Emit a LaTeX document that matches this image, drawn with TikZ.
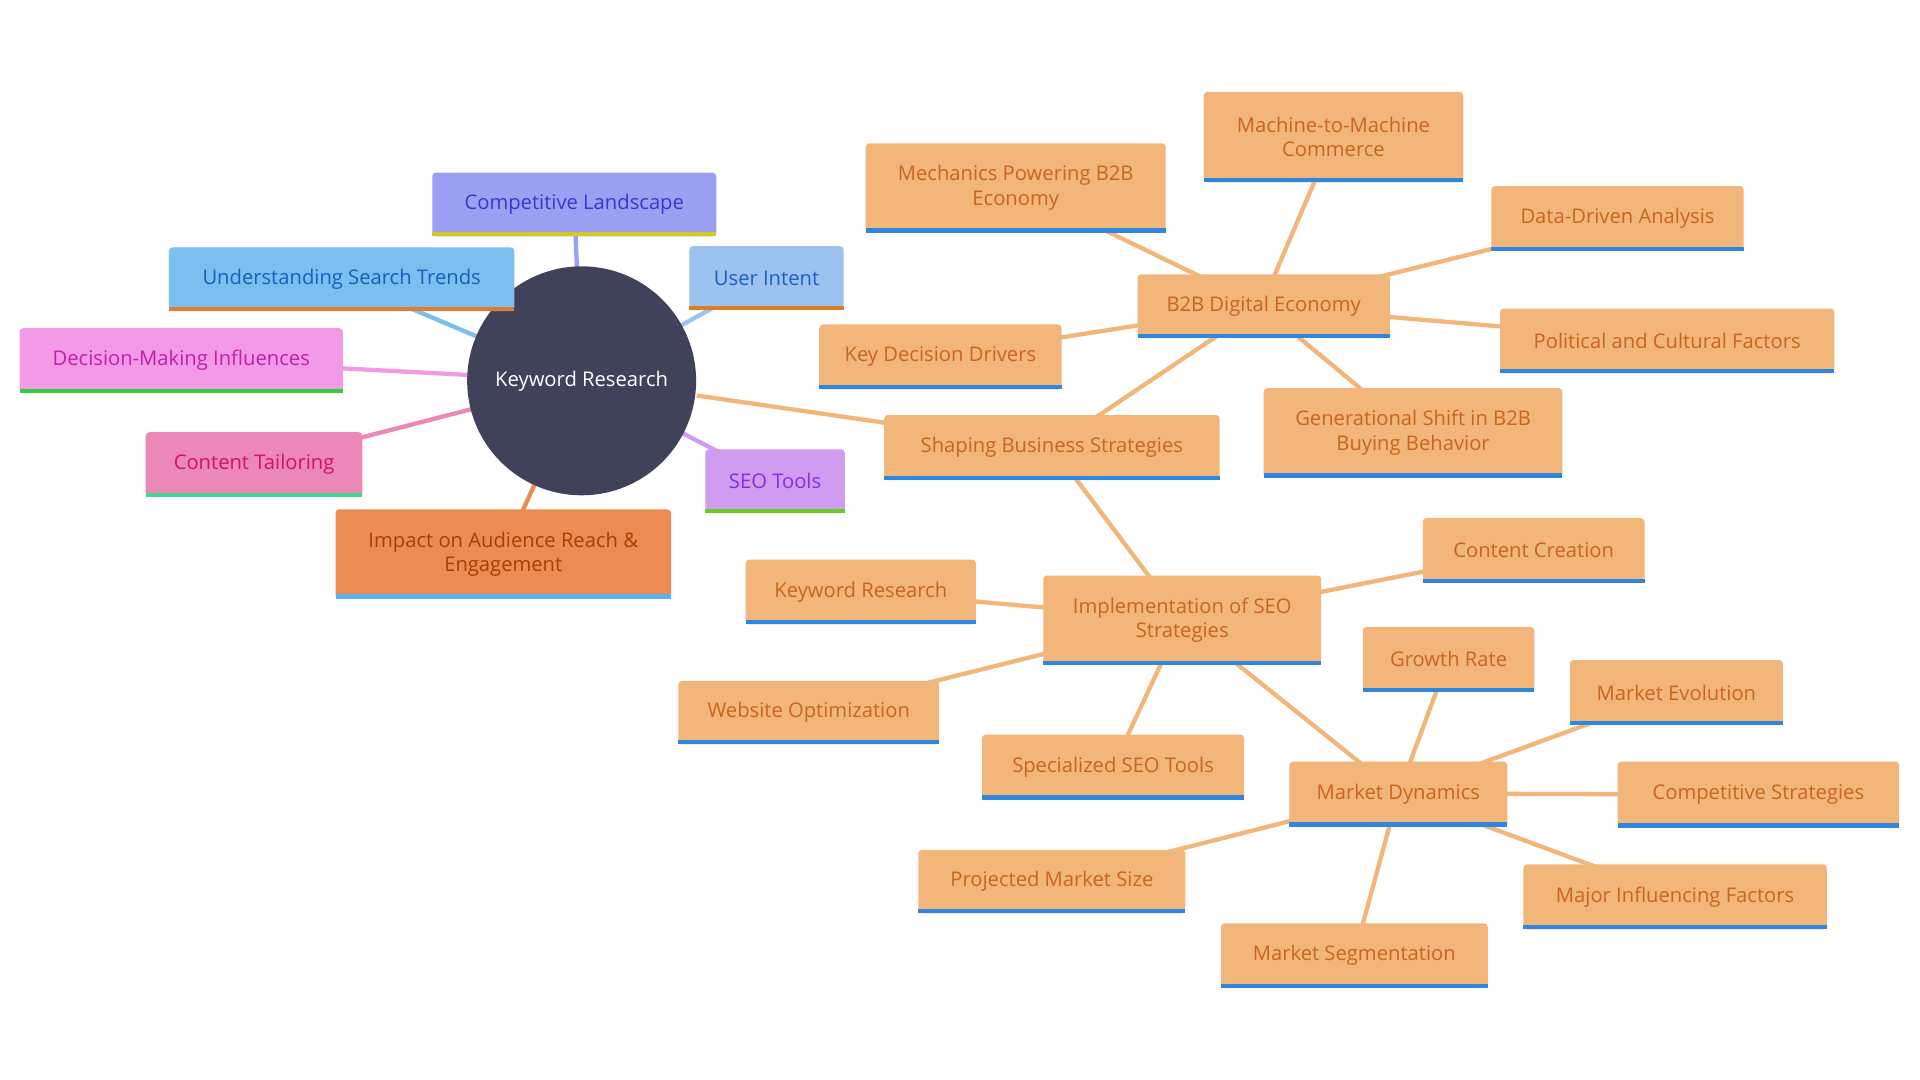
\documentclass[tikz,border=0pt]{standalone}
\usepackage{fontspec}
\setmainfont{Open Sans}
\definecolor{obF}{HTML}{F2B57A}\definecolor{obT}{HTML}{C8661E}\definecolor{obB}{HTML}{2F86DE}
\definecolor{clF}{HTML}{9BA0F2}\definecolor{clT}{HTML}{3838CC}\definecolor{clB}{HTML}{D4C920}
\definecolor{usF}{HTML}{7BBEF0}\definecolor{usT}{HTML}{1660B8}\definecolor{usB}{HTML}{E07B30}
\definecolor{uiF}{HTML}{9CC3F0}\definecolor{uiT}{HTML}{1A5FC4}\definecolor{uiB}{HTML}{D98026}
\definecolor{dmF}{HTML}{F29AE6}\definecolor{dmT}{HTML}{C21DB0}\definecolor{dmB}{HTML}{2ECC40}
\definecolor{ctF}{HTML}{EC88B8}\definecolor{ctT}{HTML}{D0106A}\definecolor{ctB}{HTML}{40D890}
\definecolor{seF}{HTML}{D09CF0}\definecolor{seT}{HTML}{8A2BE2}\definecolor{seB}{HTML}{66CC22}
\definecolor{imF}{HTML}{EC8C55}\definecolor{imT}{HTML}{A84000}\definecolor{imB}{HTML}{5AB0F0}
\definecolor{krF}{HTML}{40425A}
\begin{document}
\begin{tikzpicture}[x=1pt,y=-1pt,
 box/.style={rounded corners=3pt,inner sep=0pt,align=center,font=\fontsize{16.5}{20}\selectfont},
 ob/.style={box,fill=obF,text=obT},
 edge/.style={line width=3.5pt}]
\useasboundingbox[fill=white] (0,0) rectangle (1568,882);
\newcommand\mk[8]{% name x1 y1 x2 y2 style bottomcolor text
 \node[#6,minimum width={#4-#2},minimum height={#5-#3}] (#1) at ({(#2+#4)/2},{(#3+#5)/2}) {#8};
 \fill[#7] (#2,#5-3.5) rectangle (#4,#5);}
\coordinate (sh) at (859,365);
\coordinate (b2) at (1030,250);
\coordinate (is) at (965,506);
\coordinate (mdc) at (1142,648);
\coordinate (c) at (475,311);
\draw[edge,obF] (sh) -- (569,323);
\draw[edge,obF] (sh) -- (b2) -- (830,153);
\draw[edge,obF] (b2) -- (1089,112);
\draw[edge,obF] (b2) -- (1320,178);
\draw[edge,obF] (b2) -- (1360,278);
\draw[edge,obF] (b2) -- (1154,353);
\draw[edge,obF] (b2) -- (768,291);
\draw[edge,obF] (sh) -- (is) -- (1252,449);
\draw[edge,obF] (is) -- (703,483);
\draw[edge,obF] (is) -- (660,582);
\draw[edge,obF] (is) -- (909,626);
\draw[edge,obF] (is) -- (mdc) -- (1183,538);
\draw[edge,obF] (mdc) -- (1369,565);
\draw[edge,obF] (mdc) -- (1436,649);
\draw[edge,obF] (mdc) -- (1368,732);
\draw[edge,obF] (mdc) -- (1106,780);
\draw[edge,obF] (mdc) -- (859,720);
\draw[edge,clF] (c) -- (469,167);
\draw[edge,usF] (c) -- (279,228);
\draw[edge,uiF] (c) -- (626,227);
\draw[edge,dmF] (c) -- (148,294);
\draw[edge,ctF] (c) -- (207,380);
\draw[edge,seF] (c) -- (633,393);
\draw[edge,imF] (c) -- (411,452);
\node[circle,fill=krF,minimum size=187pt,inner sep=0pt,text=white,font=\fontsize{16.5}{20}\selectfont] (kr) at (c) {Keyword Research};
\mk{cl}{353}{141}{585}{193}{box,fill=clF,text=clT}{clB}{Competitive Landscape}
\mk{ust}{138}{202}{420}{254}{box,fill=usF,text=usT}{usB}{Understanding Search Trends}
\mk{ui}{563}{201}{689}{253}{box,fill=uiF,text=uiT}{uiB}{User Intent}
\mk{dmi}{16}{268}{280}{321}{box,fill=dmF,text=dmT}{dmB}{Decision-Making Influences}
\mk{ct}{119}{353}{296}{406}{box,fill=ctF,text=ctT}{ctB}{Content Tailoring}
\mk{seo}{576}{367}{690}{419}{box,fill=seF,text=seT}{seB}{SEO Tools}
\mk{imp}{274}{416}{548}{489}{box,fill=imF,text=imT}{imB}{Impact on Audience Reach \&\\Engagement}
\mk{mech}{707}{117}{952}{190}{ob}{obB}{Mechanics Powering B2B\\Economy}
\mk{m2m}{983}{75}{1195}{149}{ob}{obB}{Machine-to-Machine\\Commerce}
\mk{dda}{1218}{152}{1424}{205}{ob}{obB}{Data-Driven Analysis}
\mk{b2b}{929}{224}{1135}{276}{ob}{obB}{B2B Digital Economy}
\mk{kdd}{669}{265}{867}{318}{ob}{obB}{Key Decision Drivers}
\mk{pcf}{1225}{252}{1498}{305}{ob}{obB}{Political and Cultural Factors}
\mk{gen}{1032}{317}{1276}{390}{ob}{obB}{Generational Shift in B2B\\Buying Behavior}
\mk{sbs}{722}{339}{996}{392}{ob}{obB}{Shaping Business Strategies}
\mk{cc}{1162}{423}{1343}{476}{ob}{obB}{Content Creation}
\mk{kr2}{609}{457}{797}{510}{ob}{obB}{Keyword Research}
\mk{iseo}{852}{470}{1079}{543}{ob}{obB}{Implementation of SEO\\Strategies}
\mk{gr}{1113}{512}{1253}{565}{ob}{obB}{Growth Rate}
\mk{me}{1282}{539}{1456}{592}{ob}{obB}{Market Evolution}
\mk{wo}{554}{556}{767}{608}{ob}{obB}{Website Optimization}
\mk{sst}{802}{600}{1016}{653}{ob}{obB}{Specialized SEO Tools}
\mk{md}{1053}{622}{1231}{675}{ob}{obB}{Market Dynamics}
\mk{cs}{1321}{622}{1551}{676}{ob}{obB}{Competitive Strategies}
\mk{pms}{750}{694}{968}{746}{ob}{obB}{Projected Market Size}
\mk{mif}{1244}{706}{1492}{759}{ob}{obB}{Major Influencing Factors}
\mk{ms}{997}{754}{1215}{807}{ob}{obB}{Market Segmentation}
\end{tikzpicture}
\end{document}
